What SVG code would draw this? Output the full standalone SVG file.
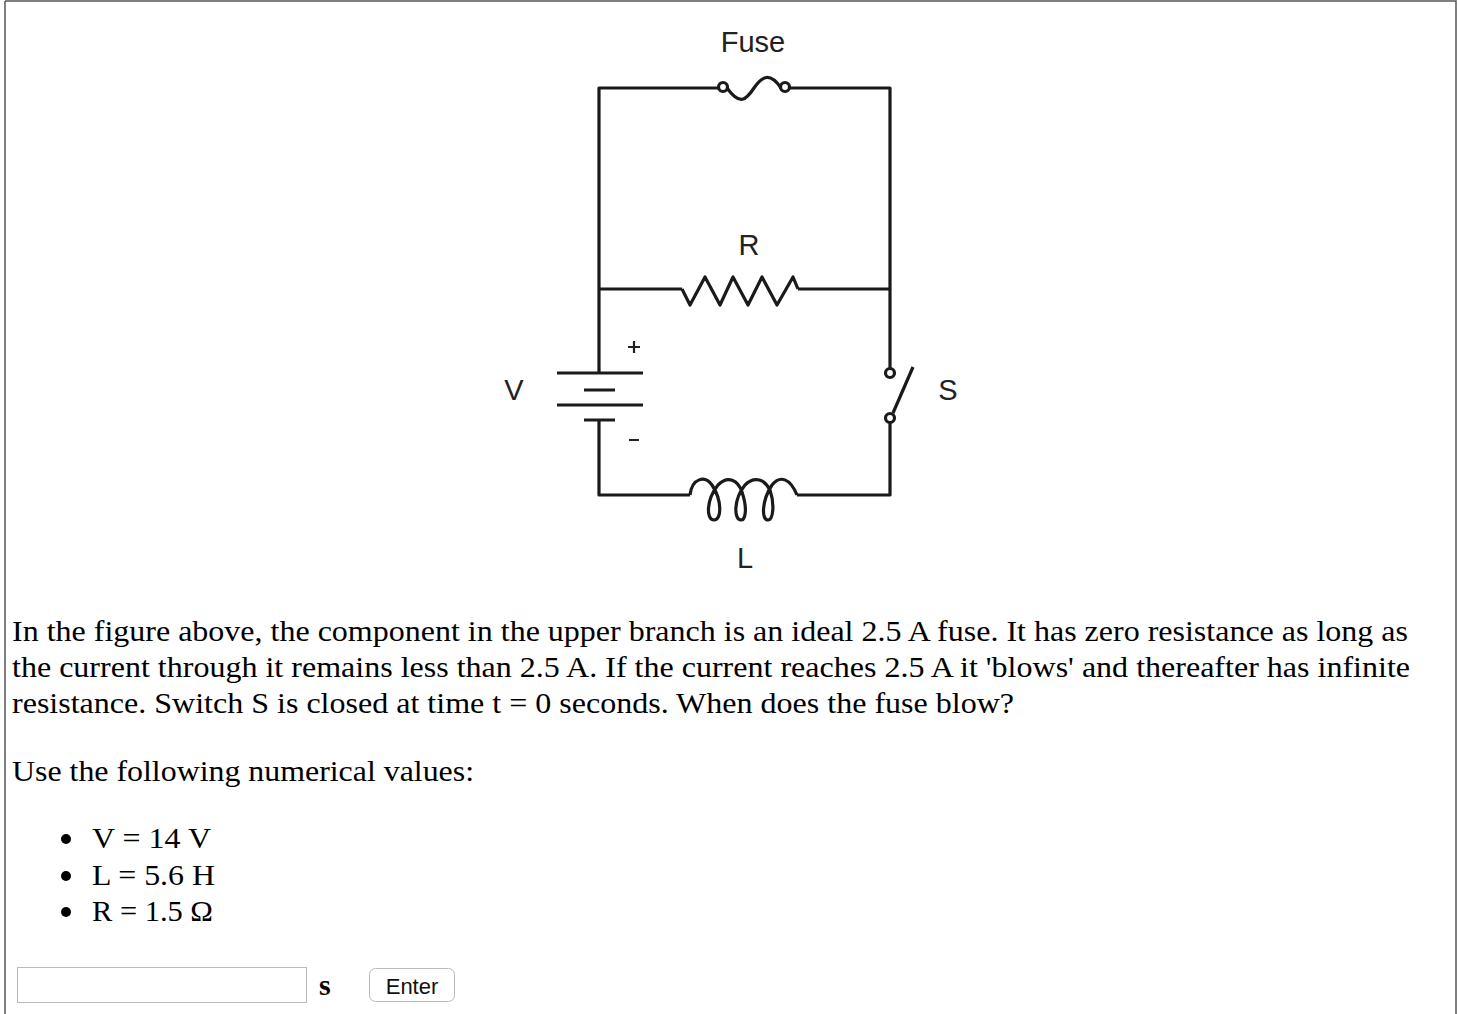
<svg xmlns="http://www.w3.org/2000/svg" width="1458" height="1014" viewBox="0 0 1458 1014">
<style>
.w{fill:none;stroke:#1a1a1a;stroke-width:3.2;stroke-linejoin:round}
.lbl{font-family:"Liberation Sans",Arial,sans-serif;font-size:29px;fill:#222;text-anchor:middle}
.t{font-family:"Liberation Serif","Times New Roman",serif;font-size:30px;fill:#000}
</style>
<rect x="0" y="0" width="1458" height="1014" fill="#fff"/>
<path d="M5,1 V1014 M5,1 H1456 V1014" fill="none" stroke="#555" stroke-width="1.5"/>
<g id="connectors">
<path class="w" d="M719,88 H599 V373 M789,88 H890 V369"/>
<path class="w" d="M599,289 H682 M798,289 H890"/>
<path class="w" d="M599,420 V495 H690 M797,495 H890 V423"/>
</g>
<g id="fuse">
<circle cx="723" cy="87" r="4.5" class="w" stroke-width="2.5"/>
<circle cx="785" cy="87" r="4.5" class="w" stroke-width="2.5"/>
<path class="w" stroke-width="2.8" d="M727,88 C740,106 746,100 754,88 C762,76 770,72 781,88"/>
<text class="lbl" x="753" y="52">Fuse</text>
</g>
<g id="resistor">
<path class="w" d="M682,289 L690,305 L705,277 L720,305 L733,277 L748,305 L762,277 L777,305 L793,277 L798,289"/>
<text class="lbl" x="749" y="255">R</text>
</g>
<g id="battery">
<path class="w" d="M557,373 H643 M584,390 H615 M557,405 H643 M584,420 H615"/>
<path d="M628,347 H640 M634,341 V353 M629,440 H639" stroke="#222" stroke-width="2.2"/>
<text class="lbl" x="514" y="400">V</text>
</g>
<g id="switch">
<circle cx="890" cy="373" r="4.5" class="w" stroke-width="2.5"/>
<circle cx="890" cy="418" r="4.5" class="w" stroke-width="2.5"/>
<path class="w" stroke-width="2.5" d="M893,413 L913,367"/>
<text class="lbl" x="948" y="400">S</text>
</g>
<g id="inductor">
<path class="w" d="M690,495 C692,478 705,475 712,485 C722,500 722,520 714,520 C706,520 706,500 718,485 C728,475 738,480 742,492 C748,510 745,520 741,520 C734,520 733,500 745,485 C755,475 765,480 770,490 C775,505 773,520 768,520 C761,520 762,500 772,485 C780,475 790,478 797,495"/>
<text class="lbl" x="745" y="568">L</text>
</g>
<g id="text">
<text class="t" x="12" y="641" textLength="1396" lengthAdjust="spacingAndGlyphs">In the figure above, the component in the upper branch is an ideal 2.5 A fuse. It has zero resistance as long as</text>
<text class="t" x="12" y="677" textLength="1398" lengthAdjust="spacingAndGlyphs">the current through it remains less than 2.5 A. If the current reaches 2.5 A it 'blows' and thereafter has infinite</text>
<text class="t" x="12" y="713" textLength="1002" lengthAdjust="spacingAndGlyphs">resistance. Switch S is closed at time t = 0 seconds. When does the fuse blow?</text>
<text class="t" x="12" y="781" textLength="462" lengthAdjust="spacingAndGlyphs">Use the following numerical values:</text>
<circle cx="66" cy="839" r="5"/><text class="t" x="92" y="848" textLength="119" lengthAdjust="spacingAndGlyphs">V = 14 V</text>
<circle cx="66" cy="876" r="5"/><text class="t" x="92" y="885" textLength="123" lengthAdjust="spacingAndGlyphs">L = 5.6 H</text>
<circle cx="66" cy="912" r="5"/><text class="t" x="92" y="921" textLength="121" lengthAdjust="spacingAndGlyphs">R = 1.5 Ω</text>
</g>
<g id="form">
<rect x="17.5" y="967.5" width="289" height="35" fill="#fff" stroke="#bbb"/>
<text class="t" x="319" y="995" font-size="26" font-weight="bold">s</text>
<rect x="369.5" y="968.5" width="85" height="33" rx="6" fill="#fff" stroke="#bbb"/>
<text x="412" y="994" font-family="Liberation Sans,sans-serif" font-size="22" text-anchor="middle" fill="#111">Enter</text>
</g>
</svg>
